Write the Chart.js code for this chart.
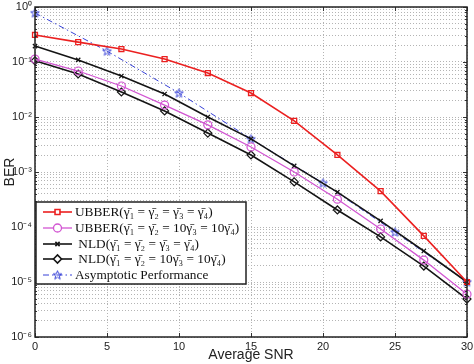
<!DOCTYPE html>
<html>
<head>
<meta charset="utf-8">
<script src="https://cdn.jsdelivr.net/npm/chart.js@4.4.1/dist/chart.umd.min.js"></script>
<style>
  html, body { margin: 0; padding: 0; background: #fff; }
</style>
</head>
<body>
<canvas id="ber-chart" width="474" height="364"></canvas>
<script>
// SNR points (dB)
const snrFine = [0, 3, 6, 9, 12, 15, 18, 21, 24, 27, 30];
const snrCoarse = [0, 5, 10, 15, 20, 25, 30];

// BER values
const ubberEqual = [0.31, 0.23, 0.172, 0.113, 0.063, 0.0273, 0.0085, 0.00204, 0.00045, 6.9e-5, 1.0e-5];
const ubberUnequal = [0.113, 0.0686, 0.0366, 0.0165, 0.0072, 0.00285, 0.001, 0.00032, 9.2e-5, 2.5e-5, 6.0e-6];
const nldEqual = [0.195, 0.109, 0.0556, 0.0262, 0.01, 0.004, 0.00129, 0.00043, 0.000129, 3.66e-5, 1.0e-5];
const nldUnequal = [0.105, 0.0605, 0.0285, 0.0129, 0.0051, 0.00204, 0.00066, 0.000204, 6.6e-5, 1.95e-5, 4.9e-6];
const asymptotic = [0.78, 0.158, 0.0273, 0.004, 0.00063, 8.1e-5, 1.0e-5];

const seriesLabels = [
    'UBBER(γ̄₁ = γ̄₂ = γ̄₃ = γ̄₄)',
    'UBBER(γ̄₁ = γ̄₂ = 10γ̄₃ = 10γ̄₄)',
    ' NLD(γ̄₁ = γ̄₂ = γ̄₃ = γ̄₄)',
    ' NLD(γ̄₁ = γ̄₂ = 10γ̄₃ = 10γ̄₄)',
    'Asymptotic Performance'
];

// axis ticks
const xTicks = [0, 5, 10, 15, 20, 25, 30];
const decades = [-6, -5, -4, -3, -2, -1, 0];

const sup = { '-': '⁻', '0': '⁰', '1': '¹', '2': '²', '3': '³', '4': '⁴', '5': '⁵', '6': '⁶', '7': '⁷', '8': '⁸', '9': '⁹' };
function decadeLabel(e) {
    return '10' + String(e).split('').map(c => sup[c]).join('');
}

// minor + major y ticks: 1..9 x 10^e
const yTickValues = [];
decades.forEach(e => {
    const top = e === 0 ? 1 : 9;
    for (let k = 1; k <= top; k++) yTickValues.push(parseFloat((k * Math.pow(10, e)).toPrecision(3)));
});

function pts(xs, ys) {
    return xs.map((x, i) => ({ x: x, y: ys[i] }));
}

const red = 'rgb(235, 32, 32)';
const magenta = 'rgb(210, 85, 210)';
const black = 'rgb(20, 20, 20)';
const blue = 'rgb(55, 65, 215)';

// 5-point outlined star marker (matlab 'p')
function makeStar(color) {
    const c = document.createElement('canvas');
    c.width = 11; c.height = 11;
    const g = c.getContext('2d');
    g.strokeStyle = color;
    g.lineWidth = 1;
    g.beginPath();
    for (let i = 0; i < 10; i++) {
        const r = i % 2 === 0 ? 4.6 : 1.9;
        const a = -Math.PI / 2 + i * Math.PI / 5;
        const px = 5.5 + r * Math.cos(a), py = 5.8 + r * Math.sin(a);
        if (i === 0) g.moveTo(px, py); else g.lineTo(px, py);
    }
    g.closePath();
    g.stroke();
    return c;
}
const starMarker = makeStar(blue);

const legendBox = {
    id: 'legendBox',
    afterDraw(chart) {
        const { ctx, chartArea: a } = chart;
        const left = a.left + 1, top = a.top + 195, w = 210, h = 82;
        ctx.save();
        ctx.fillStyle = '#fff';
        ctx.fillRect(left, top, w, h);
        ctx.strokeStyle = '#222';
        ctx.lineWidth = 1.5;
        ctx.strokeRect(left, top, w, h);
        ctx.font = '13.3px "Liberation Serif", "Times New Roman", serif';
        ctx.textBaseline = 'middle';
        chart.data.datasets.forEach((ds, i) => {
            const yy = Math.round(top + 10 + i * 15.8);
            ctx.strokeStyle = ds.borderColor;
            ctx.lineWidth = ds.borderWidth;
            ctx.setLineDash(ds.borderDash || []);
            ctx.beginPath();
            ctx.moveTo(left + 7, yy);
            ctx.lineTo(left + 36, yy);
            ctx.stroke();
            ctx.setLineDash([]);
            ctx.fillStyle = '#fff';
            ctx.strokeStyle = ds.pointBorderColor;
            Chart.helpers.drawPoint(ctx, {
                pointStyle: ds.pointStyle,
                radius: ds.pointRadius,
                borderWidth: ds.pointBorderWidth || 1,
                rotation: 0
            }, left + 21.5, yy);
            ctx.fillStyle = '#111';
            ctx.fillText(ds.label, left + 39, yy + 1);
        });
        ctx.restore();
    }
};

const frame = {
    id: 'frame',
    afterDraw(chart) {
        const { ctx, chartArea: a, scales: { x, y } } = chart;
        ctx.save();
        ctx.strokeStyle = '#333';
        ctx.lineWidth = 1;
        ctx.beginPath();
        xTicks.forEach(v => {
            const px = Math.round(x.getPixelForValue(v)) + 0.5;
            ctx.moveTo(px, a.bottom); ctx.lineTo(px, a.bottom - 4);
            ctx.moveTo(px, a.top); ctx.lineTo(px, a.top + 4);
        });
        y.ticks.forEach(t => {
            const py = Math.round(y.getPixelForValue(t.value)) + 0.5;
            const len = t.major ? 4 : 2;
            ctx.moveTo(a.left, py); ctx.lineTo(a.left + len, py);
            ctx.moveTo(a.right, py); ctx.lineTo(a.right - len, py);
        });
        ctx.stroke();
        ctx.lineWidth = 1.5;
        ctx.strokeStyle = '#222';
        ctx.strokeRect(a.left, a.top, a.right - a.left, a.bottom - a.top);
        ctx.restore();
    }
};

const ctx = document.getElementById('ber-chart').getContext('2d');
const berChart = new Chart(ctx, {
    type: 'line',
    data: {
        datasets: [{
            label: seriesLabels[0],
            data: pts(snrFine, ubberEqual),
            borderColor: red, backgroundColor: 'transparent',
            borderWidth: 1.6, pointStyle: 'rect', pointRadius: 3.5,
            pointBorderColor: red, pointBackgroundColor: 'transparent', pointBorderWidth: 1.3
        }, {
            label: seriesLabels[1],
            data: pts(snrFine, ubberUnequal),
            borderColor: magenta, backgroundColor: 'transparent',
            borderWidth: 1.3, pointStyle: 'circle', pointRadius: 4,
            pointBorderColor: magenta, pointBackgroundColor: 'transparent', pointBorderWidth: 1.2
        }, {
            label: seriesLabels[2],
            data: pts(snrFine, nldEqual),
            borderColor: black, backgroundColor: 'transparent',
            borderWidth: 1.6, pointStyle: 'crossRot', pointRadius: 3,
            pointBorderColor: black, pointBackgroundColor: 'transparent', pointBorderWidth: 1.3
        }, {
            label: seriesLabels[3],
            data: pts(snrFine, nldUnequal),
            borderColor: black, backgroundColor: 'transparent',
            borderWidth: 1.6, pointStyle: 'rectRot', pointRadius: 4,
            pointBorderColor: black, pointBackgroundColor: 'transparent', pointBorderWidth: 1.2
        }, {
            label: seriesLabels[4],
            data: pts(snrCoarse, asymptotic),
            borderColor: blue, backgroundColor: 'transparent',
            borderWidth: 1, borderDash: [6, 3, 1.5, 3], pointStyle: starMarker, pointRadius: 5,
            pointBorderColor: blue, pointBackgroundColor: 'transparent', pointBorderWidth: 1
        }].map(d => Object.assign(d, { tension: 0, clip: false }))
    },
    options: {
        responsive: false,
        animation: false,
        layout: { padding: { top: 7, right: 7, left: 0, bottom: 0 } },
        plugins: {
            legend: { display: false },
            tooltip: { enabled: false }
        },
        scales: {
            x: {
                type: 'linear', min: 0, max: 30,
                afterBuildTicks: s => { s.ticks = xTicks.map(v => ({ value: v })); },
                afterFit: s => { s.height = 27; s.paddingLeft = 0; s.paddingRight = 0; },
                ticks: {
                    autoSkip: false, maxRotation: 0, padding: 3,
                    color: '#222', font: { family: '"Liberation Sans", Arial, sans-serif', size: 11 }
                },
                grid: { color: '#b4b4b4', lineWidth: 1, drawTicks: false },
                border: { display: false, dash: [1, 2] },
                title: {
                    display: true, text: 'Average SNR', color: '#222',
                    padding: { top: 0, bottom: 0 },
                    font: { family: '"Liberation Sans", Arial, sans-serif', size: 14 }
                }
            },
            y: {
                type: 'logarithmic', min: 1e-6, max: 1,
                afterBuildTicks: s => {
                    s.ticks = yTickValues.map(v => ({ value: v, major: Math.abs(Math.log10(v) - Math.round(Math.log10(v))) < 1e-9 }));
                },
                afterFit: s => { s.width = 35; s.paddingTop = 0; s.paddingBottom = 0; },
                ticks: {
                    autoSkip: false, padding: 3,
                    color: '#222', font: { family: '"Liberation Sans", Arial, sans-serif', size: 11 },
                    callback: v => {
                        const e = Math.log10(v);
                        return Math.abs(e - Math.round(e)) < 1e-9 ? decadeLabel(Math.round(e)) : '';
                    }
                },
                grid: { color: '#b4b4b4', lineWidth: 1, drawTicks: false },
                border: { display: false, dash: [1, 2] },
                title: {
                    display: true, text: 'BER', color: '#222',
                    padding: { top: 2, bottom: 0 },
                    font: { family: '"Liberation Sans", Arial, sans-serif', size: 14 }
                }
            }
        }
    },
    plugins: [frame, legendBox]
});
</script>
</body>
</html>
